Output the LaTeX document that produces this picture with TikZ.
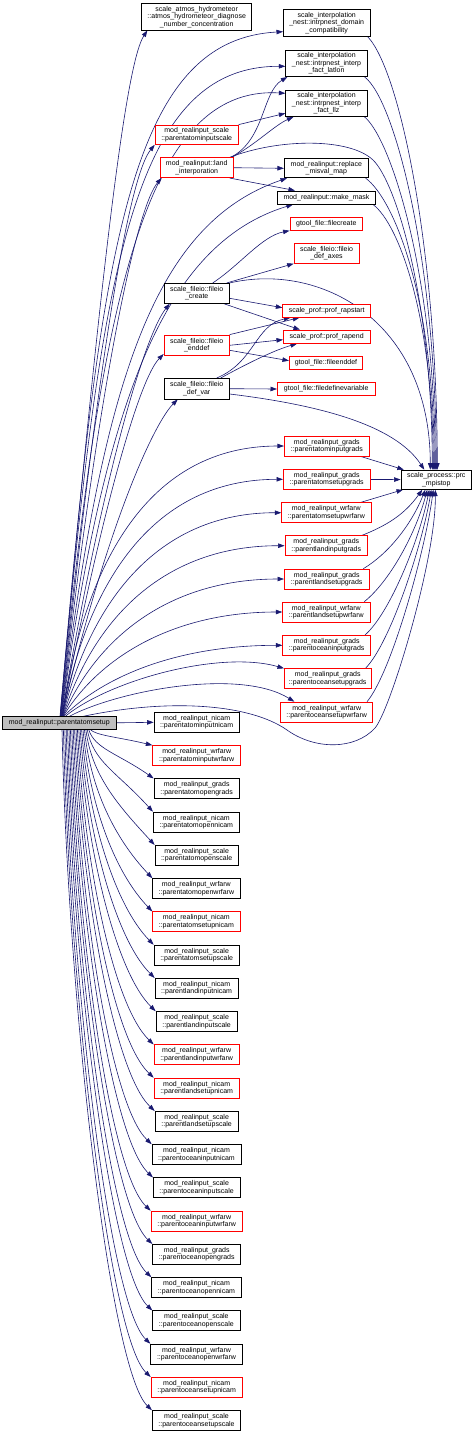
\documentclass[tikz,border=0pt]{standalone}
\usepackage{fontspec}
\setmainfont{Liberation Sans}
\usetikzlibrary{arrows.meta}
\definecolor{edgec}{RGB}{25,25,112}
\definecolor{redb}{RGB}{255,0,0}
\definecolor{rootfill}{RGB}{191,191,191}
\pgfdeclarelayer{bg}
\pgfsetlayers{bg,main}
\begin{document}
\begin{tikzpicture}[x=1pt,y=-1pt,
  box/.style={draw=black, line width=0.7pt, fill=white, align=center, font=\fontsize{7}{7.5}\selectfont, inner xsep=1pt, inner ysep=0pt},
  rbox/.style={box, draw=redb},
  e/.style={draw=edgec, line width=0.6pt, -{Triangle[length=6.5pt,width=4.5pt]}},
]
\useasboundingbox (0,0) rectangle (474,1433);
% column 2 upper
\node[box, minimum width=110, minimum height=26.7] (atmos) at (196.7,16.7) {scale\_atmos\_hydrometeor\\::atmos\_hydrometeor\_diagnose\\\_number\_concentration};
\node[box, minimum width=86.7, minimum height=26.7] (domcomp) at (326.7,22.7) {scale\_interpolation\\\_nest::intrpnest\_domain\\\_compatibility};
\node[box, minimum width=81.6, minimum height=26.7] (latlon) at (326.5,63.3) {scale\_interpolation\\\_nest::intrpnest\_interp\\\_fact\_latlon};
\node[box, minimum width=81.6, minimum height=26.7] (llz) at (326.5,103.3) {scale\_interpolation\\\_nest::intrpnest\_interp\\\_fact\_llz};
\node[rbox, minimum width=83.3, minimum height=19.5] (atminscale) at (196.7,134.7) {mod\_realinput\_scale\\::parentatominputscale};
\node[rbox, minimum width=73.3, minimum height=20] (landint) at (196.7,167.7) {mod\_realinput::land\\\_interporation};
\node[box, minimum width=84, minimum height=19] (replace) at (326.3,168.3) {mod\_realinput::replace\\\_misval\_map};
\node[box, minimum width=98.4, minimum height=13.3] (makemask) at (326.5,197.5) {mod\_realinput::make\_mask};
\node[rbox, minimum width=72.7, minimum height=13.3] (filecreate) at (326.3,223.7) {gtool\_file::filecreate};
\node[rbox, minimum width=65, minimum height=20] (defaxes) at (326.5,253.3) {scale\_fileio::fileio\\\_def\_axes};
\node[box, minimum width=65.3, minimum height=20] (fcreate) at (196.7,293.3) {scale\_fileio::fileio\\\_create};
\node[rbox, minimum width=88, minimum height=13.3] (rapstart) at (326.7,310.7) {scale\_prof::prof\_rapstart};
\node[rbox, minimum width=86.7, minimum height=13.3] (rapend) at (326.7,336.7) {scale\_prof::prof\_rapend};
\node[rbox, minimum width=65.3, minimum height=20.7] (fenddef) at (196.7,345.3) {scale\_fileio::fileio\\\_enddef};
\node[rbox, minimum width=73.4, minimum height=13.3] (fileenddef) at (326,362.7) {gtool\_file::fileenddef};
\node[box, minimum width=65.3, minimum height=20.7] (defvar) at (196.7,388.7) {scale\_fileio::fileio\\\_def\_var};
\node[rbox, minimum width=97.7, minimum height=13.3] (filedefvar) at (326.2,389) {gtool\_file::filedefinevariable};
\node[box, minimum width=70.7, minimum height=19.3] (mpistop) at (436.3,479.7) {scale\_process::prc\\\_mpistop};
\node[rbox, minimum width=85, minimum height=20] (g1) at (326.8,446) {mod\_realinput\_grads\\::parentatominputgrads};
\node[rbox, minimum width=86.7, minimum height=20] (g2) at (326.7,479.3) {mod\_realinput\_grads\\::parentatomsetupgrads};
\node[rbox, minimum width=89.3, minimum height=20] (g3) at (326.3,512.7) {mod\_realinput\_wrfarw\\::parentatomsetupwrfarw};
\node[rbox, minimum width=82.7, minimum height=20] (g4) at (326.3,545.7) {mod\_realinput\_grads\\::parentlandinputgrads};
\node[rbox, minimum width=84.7, minimum height=20] (g5) at (326.7,579) {mod\_realinput\_grads\\::parentlandsetupgrads};
\node[rbox, minimum width=87.3, minimum height=20] (g6) at (326.3,612) {mod\_realinput\_wrfarw\\::parentlandsetupwrfarw};
\node[rbox, minimum width=88, minimum height=20] (g7) at (326.7,645.3) {mod\_realinput\_grads\\::parentoceaninputgrads};
\node[rbox, minimum width=86.7, minimum height=20] (g8) at (327.7,678.7) {mod\_realinput\_grads\\::parentoceansetupgrads};
\node[rbox, minimum width=92, minimum height=20] (g9) at (326.7,712) {mod\_realinput\_wrfarw\\::parentoceansetupwrfarw};
\node[box, fill=rootfill, minimum width=113.3, minimum height=12.3] (root) at (59.3,722.8) {mod\_realinput::parentatomsetup};
% lower column
\foreach \k/\cx/\w/\st/\a/\b in {
 0/196.65/85.3/box/nicam/atominputnicam,
 1/196.7/88/rbox/wrfarw/atominputwrfarw,
 2/196.65/85.3/box/grads/atomopengrads,
 3/196.3/86/box/nicam/atomopennicam,
 4/196.65/83.3/box/scale/atomopenscale,
 5/196.35/87.3/box/wrfarw/atomopenwrfarw,
 6/196.35/87.3/rbox/nicam/atomsetupnicam,
 7/196.65/85.3/box/scale/atomsetupscale,
 8/196.65/83.3/box/nicam/landinputnicam,
 9/196.65/81.3/box/scale/landinputscale,
 10/196.65/85.3/rbox/wrfarw/landinputwrfarw,
 11/196.65/85.3/rbox/nicam/landsetupnicam,
 12/196.65/83.3/box/scale/landsetupscale,
 13/196.5/89/box/nicam/oceaninputnicam,
 14/196.65/86.7/box/scale/oceaninputscale,
 15/196.65/91.3/rbox/wrfarw/oceaninputwrfarw,
 16/196.7/88/box/grads/oceanopengrads,
 17/196.5/89.6/box/nicam/oceanopennicam,
 18/196.35/87.3/box/scale/oceanopenscale,
 19/196.5/91.6/box/wrfarw/oceanopenwrfarw,
 20/196.65/91.3/rbox/nicam/oceansetupnicam,
 21/196.5/88.4/box/scale/oceansetupscale}{
  \node[\st, minimum width=\w, minimum height=20] (L\k) at (\cx,722.3+33.25*\k) {mod\_realinput\_\a\\::parent\b};
}
\begin{pgfonlayer}{bg}
% root upward edges
\draw[e] ([xshift=0.7pt]root.north) .. controls (105,220) and (128,60) .. ([xshift=6pt]atmos.south west);
\draw[e] ([xshift=0.9pt]root.north) .. controls (100,250) and (128,40) .. ([yshift=-9pt]domcomp.west);
\draw[e] ([xshift=1.1pt]root.north) .. controls (100,270) and (132,66) .. ([yshift=-3pt]latlon.west);
\draw[e] ([xshift=1.3pt]root.north) .. controls (100,300) and (145,85) .. ([yshift=10pt]llz.west);
\draw[e] ([xshift=1.5pt]root.north) .. controls (100,340) and (130,175) .. (atminscale.south west);
\draw[e] ([xshift=1.7pt]root.north) .. controls (100,370) and (138,205) .. ([xshift=2pt]landint.south west);
\draw[e] ([xshift=1.9pt]root.north) .. controls (102,390) and (150,225) .. ([xshift=3pt]replace.south west);
\draw[e] ([xshift=2.1pt]root.north) .. controls (104,410) and (160,245) .. ([xshift=16pt]makemask.south west);
\draw[e] ([xshift=2.3pt]root.north) .. controls (104,470) and (145,335) .. ([xshift=6pt]fcreate.south west);
\draw[e] ([xshift=2.5pt]root.north) .. controls (104,500) and (140,378) .. ([yshift=2pt]fenddef.south west);
\draw[e] ([xshift=2.7pt]root.north) .. controls (108,520) and (155,422) .. ([xshift=14pt]defvar.south west);
\draw[e] ([xshift=2.9pt]root.north) .. controls (85,560) and (150,446) .. (g1.west);
\draw[e] ([xshift=3.1pt]root.north) .. controls (88,579) and (155,479.3) .. (g2.west);
\draw[e] ([xshift=3.3pt]root.north) .. controls (91,598.4) and (160,512.7) .. (g3.west);
\draw[e] ([xshift=3.5pt]root.north) .. controls (94,617.5) and (165,545.7) .. (g4.west);
\draw[e] ([xshift=3.7pt]root.north) .. controls (97,636.8) and (170,579) .. (g5.west);
\draw[e] ([xshift=3.9pt]root.north) .. controls (100,656) and (175,612) .. (g6.west);
\draw[e] ([xshift=4.3pt]root.north) .. controls (105,675) and (180,645.3) .. (g7.west);
\draw[e] ([xshift=6pt]root.north) .. controls (110,680) and (220,650) .. (g8.north west);
\draw[e] ([xshift=10pt]root.north) .. controls (120,690) and (240,668) .. ([xshift=14pt]g9.north west);
\draw[e] ([xshift=24pt]root.north) .. controls (170,698) and (250,704) .. (287,730) .. controls (315,750) and (355,750) .. (375,728) .. controls (390,711) and (436,560) .. ([xshift=-1pt]mpistop.south);
% root to lower column
\draw[e] (root.east) -- (L0.west);
\foreach \k in {1,...,21}{
  \pgfmathsetmacro\sx{90-1.4*(\k-1)}
  \pgfmathsetmacro\dsx{\sx-59.3}
  \pgfmathsetmacro\ey{712.3+33.25*\k}
  \pgfmathsetmacro\pa{729+0.4*(\ey-729)}
  \pgfmathsetmacro\pb{\sx+6}
  \pgfmathsetmacro\ox{min(42,0.55*(153-\sx))}
  \pgfmathsetmacro\oy{min(40,0.5*(\ey-729))}
  \draw[e] ([xshift=\dsx pt]root.south) .. controls (\pb,\pa) and +(-\ox,-\oy) .. (L\k.north west);
}
% into mpistop from above
\draw[e] ([xshift=-3pt]domcomp.south east) .. controls (400,70) and (437,250) .. ([xshift=1pt]mpistop.north);
\draw[e] ([xshift=-3pt]latlon.south east) .. controls (395,100) and (436,260) .. ([xshift=0pt]mpistop.north);
\draw[e] ([xshift=-3pt]llz.south east) .. controls (392,140) and (435,280) .. ([xshift=-1pt]mpistop.north);
\draw[e] ([xshift=-3pt]replace.south east) .. controls (395,200) and (434,300) .. ([xshift=-2pt]mpistop.north);
\draw[e] ([xshift=-3pt]makemask.south east) .. controls (400,225) and (433,320) .. ([xshift=-3pt]mpistop.north);
\draw[e] ([xshift=-4pt]landint.north east) .. controls (280,138) and (350,138) .. (373,160) .. controls (396,182) and (432,300) .. ([xshift=-4pt]mpistop.north);
\draw[e] (fcreate.north east) .. controls (320,262) and (430,320) .. ([xshift=-6pt]mpistop.north);
\draw[e] ([yshift=-5.3pt]defvar.east) .. controls (320,405) and (395,425) .. ([xshift=-12pt]mpistop.north);
% from left
\draw[e] (g1) -- (mpistop);
\draw[e] (g2) -- (mpistop);
\draw[e] (g3) -- (mpistop);
% from below
\draw[e] ([xshift=-6pt]g4.north east) .. controls +(25,-10) and +(-18,25) .. ([xshift=-14pt]mpistop.south);
\draw[e] ([xshift=-6pt]g5.north east) .. controls +(25,-15) and +(-14,35) .. ([xshift=-11pt]mpistop.south);
\draw[e] ([xshift=-6pt]g6.north east) .. controls +(25,-20) and +(-12,45) .. ([xshift=-9pt]mpistop.south);
\draw[e] ([xshift=-6pt]g7.north east) .. controls +(25,-22) and +(-10,50) .. ([xshift=-7pt]mpistop.south);
\draw[e] ([xshift=-6pt]g8.north east) .. controls +(25,-25) and +(-9,55) .. ([xshift=-5pt]mpistop.south);
\draw[e] ([xshift=-6pt]g9.north east) .. controls +(25,-30) and +(-8,60) .. ([xshift=-3pt]mpistop.south);
% column 2 internal
\draw[e] (atminscale.north east) -- ([yshift=-10pt]llz.west);
\draw[e] ([xshift=-3pt]landint.north east) .. controls (265,140) and (262,92) .. ([xshift=2pt]latlon.south west);
\draw[e] ([xshift=-2pt]landint.north east) .. controls (255,145) and (275,125) .. ([xshift=8pt]llz.south west);
\draw[e] (landint.east) -- (replace.west);
\draw[e] ([xshift=-4pt]landint.south east) -- ([xshift=18pt]makemask.north west);
\draw[e] ([xshift=16pt]fcreate.north) .. controls (240,265) and (262,236) .. (filecreate.south west);
\draw[e] ([xshift=-3pt]fcreate.north east) -- (defaxes.south west);
\draw[e] ([yshift=-5pt]fcreate.east) -- ([yshift=3pt]rapstart.west);
\draw[e] ([xshift=-6pt]fcreate.south east) -- ([xshift=17pt]rapend.north west);
\draw[e] (fenddef.north east) -- ([xshift=17pt]rapstart.south west);
\draw[e] (fenddef.east) -- ([yshift=-3pt]rapend.west);
\draw[e] ([yshift=-5pt]fenddef.east) -- ([yshift=2pt]fileenddef.west);
\draw[e] ([xshift=20pt]defvar.north) .. controls (255,362) and (255,325) .. ([xshift=8pt]rapstart.south west);
\draw[e] ([xshift=24pt]defvar.north) .. controls (250,362) and (275,350) .. ([xshift=14pt]rapend.south west);
\draw[e] (defvar.east) -- (filedefvar.west);
\end{pgfonlayer}
\end{tikzpicture}
\end{document}
